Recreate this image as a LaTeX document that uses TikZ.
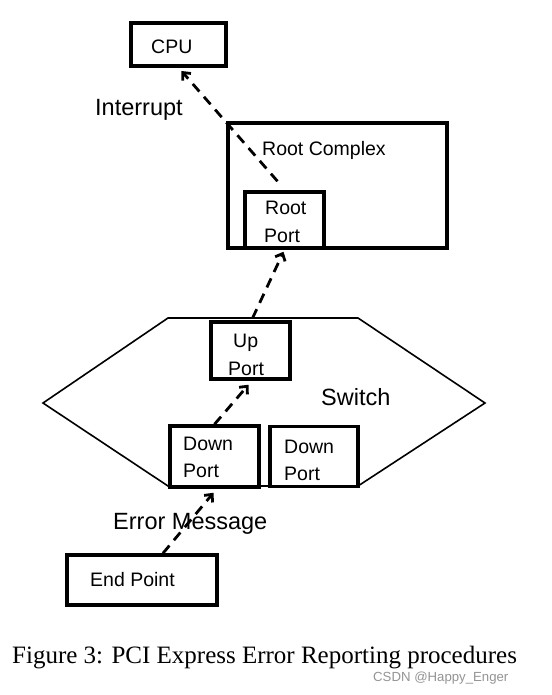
\documentclass[tikz,border=0pt]{standalone}
\usepackage{fontspec}
\setmainfont{Liberation Serif}
\newfontfamily\arialf{Liberation Sans}
\usetikzlibrary{arrows.meta}
\begin{document}
\begin{tikzpicture}[x=1pt,y=-1pt,
  box/.style={draw, line width=3.5pt, inner sep=0pt, rectangle},
  lbl/.style={anchor=base west, inner sep=0pt, font=\arialf\fontsize{19.5}{20}\selectfont},
  biglbl/.style={anchor=base west, inner sep=0pt, font=\arialf\fontsize{23.5}{24}\selectfont},
  flow/.style={line width=2.8pt, dash pattern=on 10pt off 7pt, -{Straight Barb[length=6pt,width=11pt]}}]
\useasboundingbox[fill=white] (0,0) rectangle (551,695);
% switch outline
\draw[line width=1.6pt, line join=miter] (168,318) -- (358,318) -- (485,403) -- (358,486) -- (168,486) -- (43,403) -- cycle;
% boxes
\node[box, line width=4pt, minimum width=95pt, minimum height=43pt] (cpu) at (178.5,44.5) {};
\node[box, line width=4pt, minimum width=219pt, minimum height=125pt] (rc) at (337.5,185.5) {};
\node[box, minimum width=79pt, minimum height=56pt] (rp) at (284.5,220) {};
\node[box, minimum width=79pt, minimum height=57pt] (up) at (250.5,350.5) {};
\node[box, minimum width=89pt, minimum height=61pt] (dp1) at (214.5,456.5) {};
\node[box, minimum width=88pt, minimum height=60pt] (dp2) at (314,456.5) {};
\node[box, minimum width=150pt, minimum height=50pt] (ep) at (142,580) {};
% texts
\node[lbl] (tcpu) at (151,54) {CPU};
\node[lbl] (trc) at (262,156) {Root Complex};
\node[lbl] (trp1) at (265,214) {Root};
\node[lbl] (trp2) at (264,242) {Port};
\node[lbl] (tup1) at (233,347) {Up};
\node[lbl] (tup2) at (228,375) {Port};
\node[lbl] (tdp1a) at (183,450) {Down};
\node[lbl] (tdp1b) at (183,477) {Port};
\node[lbl] (tdp2a) at (284,453) {Down};
\node[lbl] (tdp2b) at (284,480) {Port};
\node[lbl] (tep) at (90,586) {End Point};
\node[biglbl] (tsw) at (321,405) {Switch};
\node[biglbl] (tint) at (95,116) {Interrupt};
\node[biglbl] (terr) at (113,529) {Error Message};
% arrows
\draw[flow] ([xshift=21pt]ep.north) -- ([xshift=-1pt,yshift=-4pt]dp1.south);
\draw[flow] (dp1.north) -- ([xshift=-2pt,yshift=-4pt]up.south);
\draw[flow] ([xshift=2pt,yshift=2pt]up.north) -- ([xshift=-1pt,yshift=-2pt]rp.south);
\draw[flow] ([xshift=-7pt,yshift=9pt]rp.north) -- ([xshift=3pt,yshift=-3pt]cpu.south);
% caption
\node[anchor=base west, inner sep=0pt, font=\fontsize{25}{26}\selectfont] (cap) at (12,663) {Figure 3: PCI Express Error Reporting procedures};
\node[anchor=base west, inner sep=0pt, text=black!42, font=\arialf\fontsize{13.2}{14}\selectfont] (wm) at (373,681) {CSDN @Happy\_Enger};
\end{tikzpicture}
\end{document}
